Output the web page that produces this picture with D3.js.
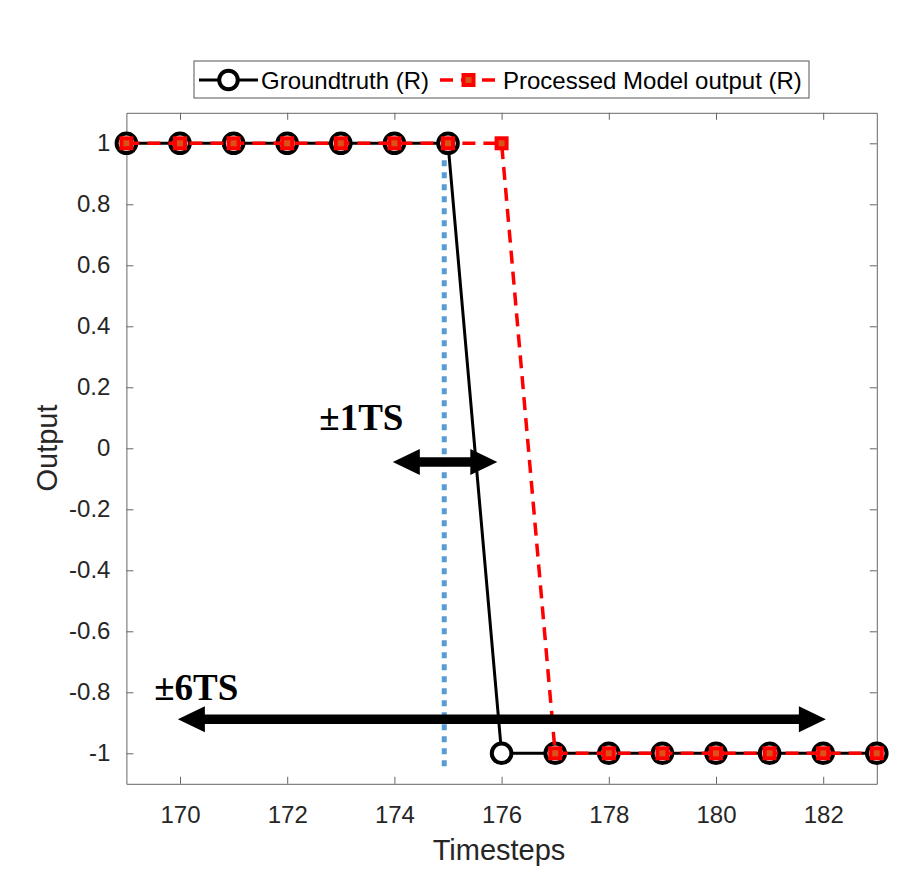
<!DOCTYPE html>
<meta charset="utf-8">
<script src="https://d3js.org/d3.v7.min.js"></script>
<style>
body { margin: 0; background: #fff; }
svg { display: block; }
text { font-family: 'Liberation Sans', Arial, sans-serif; fill: #262626; }
.tick text { font-size: 24px; }
.axis path, .axis line { stroke: #666; }
text.label { font-size: 29px; }
text.note { font-family: 'Liberation Serif', 'Times New Roman', serif; font-weight: bold; font-size: 37px; fill: #000; }
text.leg { font-size: 24px; fill: #000; }
</style>
<svg width="904" height="873"></svg>
<script>
const timesteps = [169, 170, 171, 172, 173, 174, 175, 176, 177, 178, 179, 180, 181, 182, 183];
const groundtruth = [1, 1, 1, 1, 1, 1, 1, -1, -1, -1, -1, -1, -1, -1, -1];
const modelOutput = [1, 1, 1, 1, 1, 1, 1, 1, -1, -1, -1, -1, -1, -1, -1];
const xTicks = [170, 172, 174, 176, 178, 180, 182];
const yTicks = [-1, -0.8, -0.6, -0.4, -0.2, 0, 0.2, 0.4, 0.6, 0.8, 1];
const markerLine = 174.93;
const arrows = [
  { label: '±1TS', x1: 173.97, x2: 175.92, y: -0.045, tx: 172.6, ty: 0.06 },
  { label: '±6TS', x1: 169.96, x2: 182.05, y: -0.888, tx: 169.52, ty: -0.825 }
];

const svg = d3.select('svg');
const pLeft = 126.4, pRight = 876.8, pTop = 112.8, pBottom = 783.8;

const x = d3.scaleLinear().domain([169, 183]).range([pLeft, pRight]);
const y = d3.scaleLinear().domain([-1.1, 1.1]).range([pBottom, pTop]);

// axes with box
svg.append('g').attr('class', 'axis').attr('transform', `translate(0,${pBottom})`)
  .call(d3.axisBottom(x).tickValues(xTicks).tickSize(-7).tickSizeOuter(0).tickPadding(22));
svg.append('g').attr('class', 'axis').attr('transform', `translate(0,${pTop})`)
  .call(d3.axisTop(x).tickValues(xTicks).tickSize(-7).tickSizeOuter(0).tickFormat(''));
svg.append('g').attr('class', 'axis').attr('transform', `translate(${pLeft},0)`)
  .call(d3.axisLeft(y).tickValues(yTicks).tickSize(-7).tickSizeOuter(0).tickPadding(16)
    .tickFormat(d => d3.format('.1~f')(d).replace('−', '-')));
svg.append('g').attr('class', 'axis').attr('transform', `translate(${pRight},0)`)
  .call(d3.axisRight(y).tickValues(yTicks).tickSize(-7).tickSizeOuter(0).tickFormat(''));

svg.append('text').attr('class', 'label').attr('text-anchor', 'middle')
  .attr('x', 499).attr('y', 860).text('Timesteps');
svg.append('text').attr('class', 'label').attr('text-anchor', 'middle')
  .attr('transform', `translate(57,448) rotate(-90)`).text('Output');

const pts = (vals) => timesteps.map((t, i) => [t, vals[i]]);
const line = d3.line().x(d => x(d[0])).y(d => y(d[1]));

// blue dotted line
svg.append('line')
  .attr('x1', x(markerLine)).attr('x2', x(markerLine))
  .attr('y1', y(1) + 5).attr('y2', y(-1.045))
  .attr('stroke', '#5b9bd5').attr('stroke-width', 5).attr('stroke-dasharray', '6 6');

// groundtruth
svg.append('path').attr('d', line(pts(groundtruth)))
  .attr('fill', 'none').attr('stroke', '#000').attr('stroke-width', 3);
svg.selectAll('.gt').data(pts(groundtruth)).enter().append('circle')
  .attr('cx', d => x(d[0])).attr('cy', d => y(d[1])).attr('r', 9.8)
  .attr('fill', '#fff').attr('stroke', '#000').attr('stroke-width', 4);

// model output
svg.append('path').attr('d', line(pts(modelOutput)))
  .attr('fill', 'none').attr('stroke', '#ff0000').attr('stroke-width', 3.5).attr('stroke-dasharray', '13 8');
svg.selectAll('.mo').data(pts(modelOutput)).enter().append('rect')
  .attr('x', d => x(d[0]) - 5).attr('y', d => y(d[1]) - 5).attr('width', 10).attr('height', 10)
  .attr('fill', '#d95319').attr('stroke', '#ff0000').attr('stroke-width', 4);

// arrows
function arrow(a) {
  const yy = y(a.y), xa = x(a.x1), xb = x(a.x2), hl = 27, hw = 13;
  svg.append('line').attr('x1', xa + hl - 2).attr('x2', xb - hl + 2).attr('y1', yy).attr('y2', yy)
    .attr('stroke', '#000').attr('stroke-width', 9.5);
  svg.append('path').attr('d', `M${xa},${yy}L${xa + hl},${yy - hw}L${xa + hl},${yy + hw}Z`).attr('fill', '#000');
  svg.append('path').attr('d', `M${xb},${yy}L${xb - hl},${yy - hw}L${xb - hl},${yy + hw}Z`).attr('fill', '#000');
  svg.append('text').attr('class', 'note').attr('x', x(a.tx)).attr('y', y(a.ty)).text(a.label);
}
arrows.forEach(arrow);

// legend
const lg = svg.append('g');
lg.append('rect').attr('x', 194).attr('y', 61).attr('width', 615).attr('height', 37)
  .attr('fill', '#fff').attr('stroke', '#555');
lg.append('line').attr('x1', 199).attr('x2', 258).attr('y1', 80).attr('y2', 80)
  .attr('stroke', '#000').attr('stroke-width', 3);
lg.append('circle').attr('cx', 228.5).attr('cy', 80).attr('r', 9.3)
  .attr('fill', '#fff').attr('stroke', '#000').attr('stroke-width', 4);
lg.append('text').attr('class', 'leg').attr('x', 261).attr('y', 88.5).text('Groundtruth (R)');
lg.append('line').attr('x1', 440).attr('x2', 497).attr('y1', 80).attr('y2', 80)
  .attr('stroke', '#ff0000').attr('stroke-width', 3.5).attr('stroke-dasharray', '13 8');
lg.append('rect').attr('x', 463.5).attr('y', 75).attr('width', 10).attr('height', 10)
  .attr('fill', '#d95319').attr('stroke', '#ff0000').attr('stroke-width', 4);
lg.append('text').attr('class', 'leg').attr('x', 503).attr('y', 88.5).text('Processed Model output (R)');
</script>
